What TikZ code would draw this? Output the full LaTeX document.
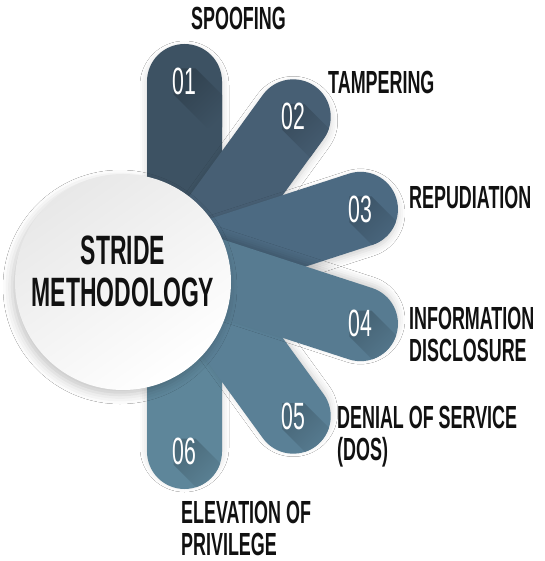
\documentclass[tikz,border=0pt]{standalone}
\usepackage{fontspec}
\usetikzlibrary{positioning, shadows.blur}
\newfontfamily\bebas[FakeStretch=0.56]{Liberation Sans}
\definecolor{petalA}{HTML}{3D5263}
\definecolor{petalB}{HTML}{475F74}
\definecolor{petalC}{HTML}{4C6A82}
\definecolor{petalD}{HTML}{577B91}
\definecolor{petalE}{HTML}{5A8096}
\definecolor{petalF}{HTML}{5E869A}
\definecolor{ink}{HTML}{111111}
\tikzset{
	num/.style={text=white, inner sep=0pt, font=\bebas\fontsize{38}{38}\selectfont},
	tag/.style={text=ink, align=left, anchor=north west, inner sep=0pt, font=\bebas\bfseries\fontsize{32}{32.2}\selectfont},
	hub/.style={circle, minimum size=216pt, inner sep=0pt, top color=black!9, bottom color=white, shading angle=35,
		blur shadow={shadow xshift=-3pt, shadow yshift=-5pt, shadow blur radius=9pt, shadow opacity=22}},
}
% angle, colour, number, shadow side
\newcommand\petal[4]{
	\begin{scope}[shift={(184.5,266.5)}, rotate=#1]
		\fill[#2, blur shadow={shadow xshift=0pt, shadow yshift=#4, shadow blur radius=7pt, shadow opacity=18}]
			(0,-37.5) -- (185,-37.5) arc[start angle=-90, end angle=90, radius=37.5] -- (0,37.5) -- cycle;
		\coordinate (c#3) at (185,0);
		\begin{scope}
			\clip (0,-37.5) -- (185,-37.5) arc[start angle=-90, end angle=90, radius=37.5] -- (0,37.5) -- cycle;
			\begin{scope}[rotate=-#1]
				\shade[top color=#2!80!black, bottom color=#2, shading angle=45]
					([shift={(-11,-13)}]c#3) -- ([shift={(11,-13)}]c#3) -- ([shift={(44,20)}]c#3)
					-- ([shift={(44,46)}]c#3) -- ([shift={(22,46)}]c#3) -- ([shift={(-11,13)}]c#3) -- cycle;
			\end{scope}
		\end{scope}
		\node[num] (N#3) at (c#3) {#3};
	\end{scope}
}

\begin{document}
\begin{tikzpicture}[x=1pt, y=-1pt]
	\useasboundingbox (0,0) rectangle (544,561);
	\fill[white] (0,0) rectangle (544,561);

	\petal{90}{petalA}{01}{-4pt}
	\petal{54}{petalB}{02}{-4pt}
	\petal{18}{petalC}{03}{-4pt}
	\petal{-90}{petalF}{06}{4pt}
	\petal{-54}{petalE}{05}{4pt}
	\petal{-18}{petalD}{04}{4pt}

	\node[hub] (C) at (123,282) {};
	\node[text=ink, align=center, inner sep=0pt, font=\bebas\bfseries\fontsize{41}{42}\selectfont] (T) at (123,271) {STRIDE\\METHODOLOGY};

	\node[tag] (L1) at (191,7) {SPOOFING};
	\node[tag] (L2) at (328,71) {TAMPERING};
	\node[tag] (L3) at (409,186) {REPUDIATION};
	\node[tag] (L4) at (409,307) {INFORMATION\\DISCLOSURE};
	\node[tag] (L5) at (337,406) {DENIAL OF SERVICE\\(DOS)};
	\node[tag] (L6) at (181,501) {ELEVATION OF\\PRIVILEGE};
\end{tikzpicture}
\end{document}
